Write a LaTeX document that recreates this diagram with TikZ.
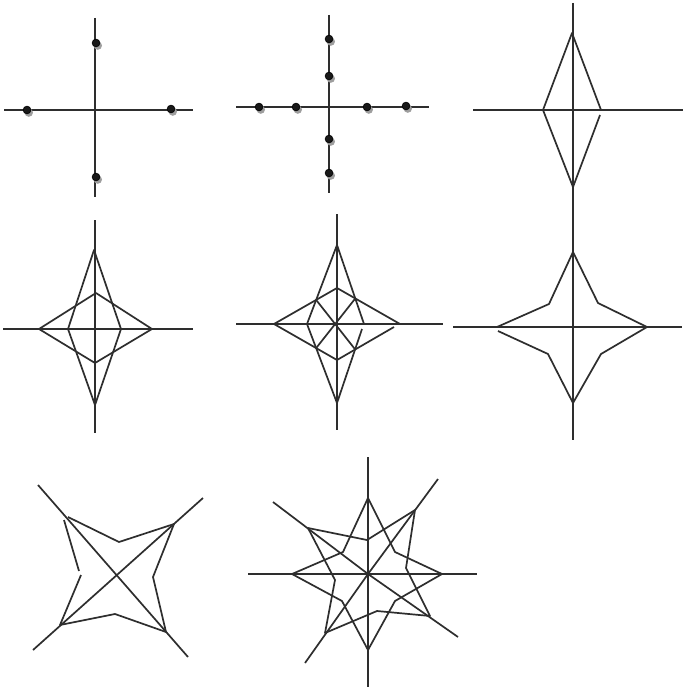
\documentclass[tikz,border=0pt]{standalone}
\tikzset{
  ln/.style={line width=1.7pt, draw=black!82, line join=round},
  dotshadow/.style={fill=black!38},
  dotfill/.style={fill=black!90, draw=black, line width=0.6pt},
}
\newcommand{\mydot}[1]{%
  \fill[dotshadow] ($(#1)+(1.8,2.6)$) circle (4.2);
  \filldraw[dotfill] (#1) circle (3.9);
}
\usetikzlibrary{calc}
\begin{document}
\begin{tikzpicture}[x=1pt,y=-1pt]
\useasboundingbox (0,0) rectangle (685,690);
\fill[white] (0,0) rectangle (685,690);

% ---------- Panel 1 ----------
\coordinate (a1t) at (95,18);  \coordinate (a1b) at (95,197);
\coordinate (a1l) at (4,110);  \coordinate (a1r) at (193,110);
\draw[ln] (a1t) -- (a1b);
\draw[ln] (a1l) -- (a1r);
\coordinate (d1a) at (96,43);  \coordinate (d1b) at (27,110);
\coordinate (d1c) at (171,109); \coordinate (d1d) at (96,177);
\mydot{d1a}\mydot{d1b}\mydot{d1c}\mydot{d1d}

% ---------- Panel 2 ----------
\coordinate (a2t) at (329,15);  \coordinate (a2b) at (329,193);
\coordinate (a2l) at (236,107); \coordinate (a2r) at (429,107);
\draw[ln] (a2t) -- (a2b);
\draw[ln] (a2l) -- (a2r);
\coordinate (d2a) at (329,39);  \coordinate (d2b) at (329,76);
\coordinate (d2c) at (329,139); \coordinate (d2d) at (329,173);
\coordinate (d2e) at (259,107); \coordinate (d2f) at (296,107);
\coordinate (d2g) at (367,107); \coordinate (d2h) at (406,106);
\mydot{d2a}\mydot{d2b}\mydot{d2c}\mydot{d2d}
\mydot{d2e}\mydot{d2f}\mydot{d2g}\mydot{d2h}

% ---------- Panel 3 ----------
\coordinate (a3t) at (573,3);   \coordinate (a3b) at (573,215);
\coordinate (a3l) at (473,110); \coordinate (a3r) at (683,110);
\draw[ln] (a3t) -- (a3b);
\draw[ln] (a3l) -- (a3r);
\coordinate (q3t) at (572,33);  \coordinate (q3l) at (543,110);
\coordinate (q3r) at (601,110); \coordinate (q3b) at (573,187);
\coordinate (q3g) at (600,115);
\draw[ln] (q3r) -- (q3t) -- (q3l) -- (q3b) -- (q3g);

% ---------- Panel 4 ----------
\coordinate (a4t) at (95,220);  \coordinate (a4b) at (95,433);
\coordinate (a4l) at (3,329);   \coordinate (a4r) at (193,329);
\draw[ln] (a4t) -- (a4b);
\draw[ln] (a4l) -- (a4r);
\coordinate (t4t) at (94,250);  \coordinate (t4l) at (68,329);
\coordinate (t4r) at (121,329); \coordinate (t4b) at (95,405);
\draw[ln] (t4t) -- (t4r) -- (t4b) -- (t4l) -- cycle;
\coordinate (w4t) at (96,293);  \coordinate (w4l) at (39,329);
\coordinate (w4r) at (152,329); \coordinate (w4b) at (95,363);
\draw[ln] (w4t) -- (w4r) -- (w4b) -- (w4l) -- cycle;

% ---------- Panel 5 ----------
\coordinate (a5t) at (337,214); \coordinate (a5b) at (337,430);
\coordinate (a5l) at (236,324); \coordinate (a5r) at (443,324);
\draw[ln] (a5t) -- (a5b);
\draw[ln] (a5l) -- (a5r);
\coordinate (t5t) at (337,245); \coordinate (t5l) at (307,324);
\coordinate (t5r) at (364,324); \coordinate (t5b) at (337,403);
\coordinate (t5g) at (362,329);
\draw[ln] (t5r) -- (t5t) -- (t5l) -- (t5b) -- (t5g);
\coordinate (w5t) at (337,288); \coordinate (w5l) at (274,324);
\coordinate (w5r) at (400,324); \coordinate (w5b) at (337,360);
\coordinate (w5g) at (394,327);
\draw[ln] (w5r) -- (w5t) -- (w5l) -- (w5b) -- (w5g);
\coordinate (i5ul) at (intersection of t5t--t5l and w5t--w5l);
\coordinate (i5ur) at (intersection of t5t--t5r and w5t--w5r);
\coordinate (i5ll) at (intersection of t5b--t5l and w5b--w5l);
\coordinate (i5lr) at (intersection of t5b--t5r and w5b--w5r);
\draw[ln] (i5ul) -- (i5lr);
\draw[ln] (i5ur) -- (i5ll);

% ---------- Panel 6 ----------
\coordinate (a6t) at (573,213); \coordinate (a6b) at (573,440);
\coordinate (a6l) at (453,327); \coordinate (a6r) at (682,327);
\draw[ln] (a6t) -- (a6b);
\draw[ln] (a6l) -- (a6r);
\coordinate (s6t) at (573,252);  \coordinate (s6ur) at (598,303);
\coordinate (s6r) at (647,327);  \coordinate (s6lr) at (601,354);
\coordinate (s6b) at (573,403);  \coordinate (s6ll) at (548,354);
\coordinate (s6l) at (497,327);  \coordinate (s6ul) at (549,304);
\coordinate (s6g) at (498,331);
\draw[ln] (s6l) -- (s6ul) -- (s6t) -- (s6ur) -- (s6r) -- (s6lr) -- (s6b) -- (s6ll) -- (s6g);

% ---------- Panel 7 ----------
\coordinate (a7a) at (38,485);  \coordinate (a7b) at (188,657);
\coordinate (a7c) at (33,650);  \coordinate (a7d) at (203,498);
\draw[ln] (a7a) -- (a7b);
\draw[ln] (a7c) -- (a7d);
\coordinate (s7ul) at (68,517);  \coordinate (s7t) at (119,542);
\coordinate (s7ur) at (174,524); \coordinate (s7r) at (153,577);
\coordinate (s7lr) at (166,632); \coordinate (s7b) at (115,614);
\coordinate (s7ll) at (60,625);  \coordinate (s7l) at (81,575);
\coordinate (s7g1) at (64,520);  \coordinate (s7g2) at (79,571);
\draw[ln] (s7ul) -- (s7t) -- (s7ur) -- (s7r) -- (s7lr) -- (s7b) -- (s7ll) -- (s7l);
\draw[ln] (s7g1) -- (s7g2);

% ---------- Panel 8 ----------
\coordinate (a8t) at (368,457); \coordinate (a8b) at (368,687);
\coordinate (a8l) at (248,574); \coordinate (a8r) at (477,574);
\coordinate (a8c) at (368,574);
\coordinate (a8p) at (273,502); \coordinate (a8q) at (458,637);
\coordinate (a8u) at (305,663); \coordinate (a8v) at (438,479);
\draw[ln] (a8t) -- (a8b);
\draw[ln] (a8l) -- (a8r);
\draw[ln] (a8p) -- (a8c) -- (a8q);
\draw[ln] (a8u) -- (a8c) -- (a8v);
% star along the axes
\coordinate (s8t) at (368,498);  \coordinate (s8ur) at (395,552);
\coordinate (s8r) at (442,574);  \coordinate (s8lr) at (395,601);
\coordinate (s8b) at (368,650);  \coordinate (s8ll) at (342,601);
\coordinate (s8l) at (292,574);  \coordinate (s8ul) at (343,552);
\draw[ln] (s8t) -- (s8ur) -- (s8r) -- (s8lr) -- (s8b) -- (s8ll) -- (s8l) -- (s8ul) -- cycle;
% star along the diagonals
\coordinate (r8nw) at (308,528); \coordinate (r8t) at (367,540);
\coordinate (r8ne) at (415,510); \coordinate (r8r) at (406,568);
\coordinate (r8se) at (430,616); \coordinate (r8b) at (377,611);
\coordinate (r8sw) at (325,633); \coordinate (r8l) at (335,580);
\draw[ln] (r8nw) -- (r8t) -- (r8ne) -- (r8r) -- (r8se) -- (r8b) -- (r8sw) -- (r8l) -- cycle;
\end{tikzpicture}
\end{document}
